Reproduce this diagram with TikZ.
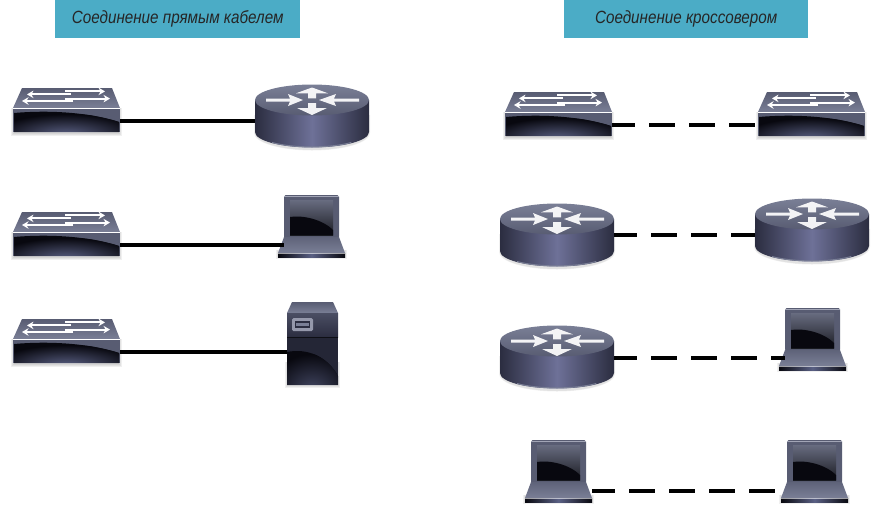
\documentclass[tikz,border=0pt]{standalone}
\usepackage{fontspec}
\setmainfont{Liberation Sans}
\newfontfamily\hdrfont[FakeStretch=0.86,ItalicFont={Liberation Sans Italic}]{Liberation Sans}
\usetikzlibrary{arrows.meta}
\definecolor{hdr}{HTML}{4BACC6}
\definecolor{facea}{HTML}{585C72}
\definecolor{faceb}{HTML}{7A7F96}
\definecolor{dk}{HTML}{08080F}
\definecolor{glow}{HTML}{5A6084}
\definecolor{edge}{HTML}{2B2D40}
\definecolor{mid}{HTML}{6E7198}
\tikzset{
  hdrbox/.style={fill=hdr,draw=none,inner sep=0pt,font=\hdrfont\itshape\fontsize{17.7}{20}\selectfont,text=black!85},
  straightlink/.style={line width=3.4pt,black},
  crosslink/.style={line width=3.2pt,black,dash pattern=on 26pt off 14pt,dash phase=3pt},
  wht/.style={fill=white,fill opacity=.92,draw=none},
  softbox/.style={black,opacity=.06},
  swarrow/.style={draw=white,line width=1.9pt,-{Stealth[length=6.5pt,width=7.5pt]}},
  sw/.pic={
    \fill[softbox] (-2,20) rectangle (109,48);
    \fill[softbox] (-1,20) rectangle (108,47);
    \fill[softbox] (0,20) rectangle (107,46);
    \shade[top color=facea,bottom color=faceb] (9,0) -- (99,0) -- (107,20) -- (0,20) -- cycle;
    \fill[facea] (0,20) rectangle (107,44);
    \begin{scope}
      \clip (1,25) .. controls (35,22) and (75,24) .. (106,34) -- (106,44) -- (1,44) -- cycle;
      \fill[dk] (0,20) rectangle (107,44);
      \shade[inner color=glow,outer color=dk] (53,47) ellipse[x radius=72,y radius=21];
    \end{scope}
    \draw[white,line width=.7pt] (0,20) -- (107,20);
    \draw[swarrow] (52,3.4) -- (92,3.4);
    \draw[swarrow] (52,10.6) -- (97,10.6);
    \draw[swarrow] (58,6.4) -- (14,6.4);
    \draw[swarrow] (60,13) -- (9,13);
    \coordinate (-e) at (107,33);
    \coordinate (-w) at (0,33);
  },
  rt/.pic={
    \fill[softbox] (-58,15) -- (58,15) -- (58,33) arc[start angle=0,end angle=180,x radius=58,y radius=17.5] -- cycle;
    \fill[softbox] (-57,15) -- (57,15) -- (57,33) arc[start angle=0,end angle=180,x radius=57,y radius=17] -- cycle;
    \shade[left color=edge,right color=edge,middle color=mid] (-57,0) -- (-57,32) arc[start angle=180,end angle=0,x radius=57,y radius=15.5] -- (57,0) -- cycle;
    \draw[faceb,line width=1pt] (-40,42.5) arc[start angle=135,end angle=45,x radius=56,y radius=15];
    \shade[top color=faceb,bottom color=facea] (0,0) ellipse[x radius=57,y radius=15.5];
    \fill[wht] (-4,-1.7) -- (-4,-6.7) -- (-16,-6.7) -- (0,-12.5) -- (16,-6.7) -- (4,-6.7) -- (4,-1.7) -- cycle;
    \fill[wht] (-4,3) -- (-4,8) -- (-15,8) -- (0,15) -- (15,8) -- (4,8) -- (4,3) -- cycle;
    \fill[wht] (-46,-1.5) -- (-22,-1.5) -- (-24,-6) -- (-9,0) -- (-24,6) -- (-22,1.5) -- (-46,1.5) -- cycle;
    \fill[wht] (47,-1.5) -- (22,-1.5) -- (24,-6) -- (7,0) -- (24,6) -- (22,1.5) -- (47,1.5) -- cycle;
    \coordinate (-e) at (57,16);
    \coordinate (-w) at (-57,21);
  },
  lp/.pic={
    \fill[softbox] (-8,55) rectangle (63,64);
    \fill[softbox] (-7,55) rectangle (62,63);
    \fill[facea,rounded corners=1.5pt] (0,0) rectangle (55,43);
    \draw[faceb!70!white,line width=.6pt] (0,.8) -- (55,.8);
    \shade[top color=faceb!85!black,bottom color=black!70!facea] (6,5) rectangle (49,40);
    \fill[dk] (6,22) .. controls (18,20) and (38,24) .. (49,35) -- (49,40) -- (6,40) -- cycle;
    \shade[top color=facea!80!faceb,bottom color=faceb] (0,42) -- (55,42) -- (61,58) -- (-6,58) -- cycle;
    \shade[left color=dk,right color=dk,middle color=glow] (-6,58) rectangle (61,62);
    \draw[white,opacity=.6,line width=.6pt] (-6,58) -- (61,58);
    \coordinate (-e) at (61,51);
    \coordinate (-w) at (0,50);
  },
  srv/.pic={
    \fill[softbox] (-2,60) rectangle (53,86);
    \fill[softbox] (-1,60) rectangle (52,85);
    \shade[top color=facea,bottom color=faceb] (5,0) -- (46,0) -- (51,11) -- (0,11) -- cycle;
    \shade[top color=facea!70!edge,bottom color=edge] (0,11) rectangle (51,35);
    \fill[edge!85!black] (0,35) rectangle (51,83);
    \begin{scope}
      \clip (0,50) .. controls (20,46) and (40,54) .. (51,74) -- (51,83) -- (0,83) -- cycle;
      \fill[dk] (0,40) rectangle (51,83);
      \shade[inner color=glow!70!dk,outer color=dk] (25,88) ellipse[x radius=42,y radius=36];
    \end{scope}
    \draw[black,line width=.5pt,opacity=.6] (0,35) -- (51,35);
    \fill[faceb!80!white,rounded corners=1.5pt] (5,16) rectangle (26,29);
    \fill[edge] (8,19) rectangle (23,26);
    \fill[faceb] (9,21) rectangle (22,24);
    \coordinate (-w) at (0,49);
  }
}
\begin{document}
\begin{tikzpicture}[x=1pt,y=-1pt]
\useasboundingbox (0,0) rectangle (879,512);
% headers
\node[hdrbox,minimum width=245pt,minimum height=38pt,anchor=north west] (h1) at (55,0) {Соединение прямым кабелем};
\node[hdrbox,minimum width=244pt,minimum height=38pt,anchor=north west] (h2) at (564,0) {Соединение кроссовером};
% connectors first, so that they tuck under the devices
\pic (a1) at (13,88) {sw};
\pic (b1) at (312,100) {rt};
\pic (a2) at (13,212) {sw};
\pic (b2) at (284,195) {lp};
\pic (a3) at (13,319) {sw};
\pic (b3) at (287,302) {srv};
\pic (c1) at (505,92) {sw};
\pic (d1) at (758,92) {sw};
\pic (c2) at (557,219) {rt};
\pic (d2) at (812,214) {rt};
\pic (c3) at (557,341) {rt};
\pic (d3) at (785,308) {lp};
\pic (c4) at (531,440) {lp};
\pic (d4) at (787,440) {lp};
\draw[straightlink] (a1-e) -- (a1-e -| b1-w);
\draw[straightlink] (a2-e) -- (b2-w);
\draw[straightlink] (a3-e) -- (a3-e -| b3-w);
\draw[crosslink] (c1-e) -- (d1-w);
\draw[crosslink] (c2-e |- d2-w) -- (d2-w);
\draw[crosslink] (c3-e |- d3-w) -- (d3-w);
\draw[crosslink] (c4-e) -- (c4-e -| d4-w);
\end{tikzpicture}
\end{document}
